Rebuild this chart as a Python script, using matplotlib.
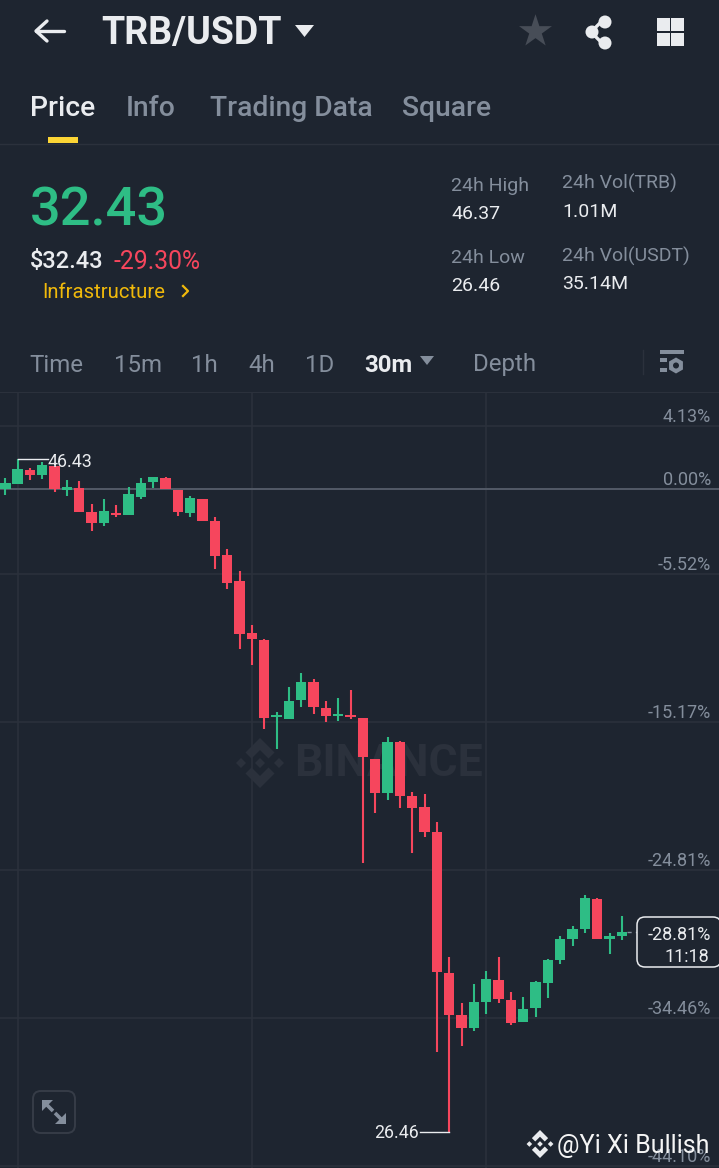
#!/usr/bin/env python3
"""Recreate the TRB/USDT 30m candlestick phone screenshot."""

import matplotlib

matplotlib.use("Agg")
import matplotlib.pyplot as plt
from matplotlib.patches import Circle, FancyBboxPatch, Polygon, Rectangle, RegularPolygon

W, H = 719, 1168

# candle values, percent change from the reference price
opens = [0.00, 0.35, 1.26, 0.91, 1.52, -0.02, 0.11, -1.48, -2.22, -1.54,
         -1.67, -0.48, 0.45, 0.76, -0.02, -1.52, -0.63, -2.07, -4.30, -6.00,
         -9.39, -9.84, -14.86, -14.97, -13.73, -12.56, -14.23, -14.77, -14.71,
         -14.90, -17.60, -19.81, -16.49, -19.99, -20.70, -22.35, -31.54, -34.26,
         -35.13, -33.43, -31.95, -33.26, -34.71, -33.80, -32.15, -30.67, -29.28,
         -28.63, -26.68, -29.33, -29.11]
closes = [0.39, 1.30, 0.91, 1.58, 0.00, 0.15, -1.46, -2.20, -1.44, -1.65,
          -0.33, 0.43, 0.80, 0.00, -1.46, -0.57, -2.09, -4.35, -6.13, -9.43,
          -9.78, -14.88, -14.71, -13.79, -12.58, -14.16, -14.77, -14.64, -14.84,
          -17.47, -19.77, -16.49, -19.99, -20.75, -22.35, -31.43, -34.26, -35.11,
          -33.39, -31.93, -33.22, -34.76, -33.87, -32.11, -30.67, -29.31, -28.65,
          -26.66, -29.28, -29.11, -28.83]
highs = [0.74, 1.95, 1.39, 1.78, 1.52, 0.61, 0.54, -0.98, -0.63, -1.02,
         0.13, 0.74, 0.82, 0.80, -0.02, -0.44, -0.63, -1.78, -3.87, -5.30,
         -8.84, -9.76, -14.49, -12.86, -11.97, -12.36, -13.82, -13.62, -13.08,
         -14.90, -17.60, -16.12, -16.40, -19.75, -19.86, -21.68, -30.46, -33.50,
         -32.24, -31.39, -30.50, -32.76, -33.08, -32.06, -30.61, -29.11, -28.46,
         -26.46, -26.66, -28.94, -27.83]
lows = [-0.35, 0.35, 0.61, 0.67, -0.15, -0.44, -1.46, -2.74, -2.41, -1.83,
        -1.67, -0.61, 0.08, 0.00, -1.74, -1.83, -2.09, -5.17, -6.48, -10.43,
        -11.45, -15.60, -16.95, -14.97, -14.16, -14.62, -15.14, -15.08, -14.95,
        -24.37, -21.12, -20.25, -20.75, -23.72, -22.64, -36.65, -41.90, -36.26,
        -35.28, -34.19, -33.45, -34.91, -34.71, -34.37, -33.13, -30.93, -29.76,
        -28.94, -29.33, -30.28, -29.35]

pct_ticks = [4.13, 0.00, -5.52, -15.17, -24.81, -34.46, -44.10]
pct_labels = ["4.13%", "0.00%", "-5.52%", "-15.17%", "-24.81%", "-34.46%", "-44.10%"]
time_ticks = [1, 20, 39]

tabs = ["Price", "Info", "Trading Data", "Square"]
tab_x = [30, 126, 210, 402]
intervals = ["Time", "15m", "1h", "4h", "1D", "30m", "Depth"]
interval_x = [29, 114, 191, 248, 305, 364, 473]

BG = "#1e2530"
GRID = "#2b313c"
GREY = "#848e9c"
WHITE = "#eaecef"
GREEN = "#2ebd85"
RED = "#f6465d"
YELLOW = "#f0b90b"

plt.rcParams["font.family"] = ["Roboto", "DejaVu Sans"]


def binance_logo(ax, cx, cy, r, color, zorder=1):
    chevron = [(0, -1), (0.58, -0.42), (0.34, -0.18), (0, -0.52), (-0.34, -0.18), (-0.58, -0.42)]
    for sign in (1, -1):
        ax.add_patch(Polygon([(cx + r * a, cy + sign * r * b) for a, b in chevron],
                             color=color, lw=0, zorder=zorder))
    d = 0.2 * r
    for ox in (-0.76 * r, 0, 0.76 * r):
        ax.add_patch(Polygon([(cx + ox - d, cy), (cx + ox, cy - d), (cx + ox + d, cy), (cx + ox, cy + d)],
                             color=color, lw=0, zorder=zorder))


def draw_header(ax):
    # back arrow
    ax.plot([36, 64], [31, 31], color=WHITE, lw=2.4, solid_capstyle="round")
    ax.plot([47, 36, 47], [21, 31, 41], color=WHITE, lw=2.4, solid_capstyle="round")
    ax.text(101, 34, "TRB/USDT", color=WHITE, fontsize=27, fontweight="bold", va="center")
    ax.add_patch(Polygon([(295, 25), (314, 25), (304.5, 37)], color=WHITE, lw=0))

    ax.scatter([535], [31], marker="*", s=620, color="#474d57", lw=0)
    # share icon
    ax.plot([602, 591, 602], [21, 32, 43], color=WHITE, lw=2.4)
    for px, py in [(605, 22), (592, 32), (605, 43)]:
        ax.add_patch(Circle((px, py), 6.5, color=WHITE, lw=0))
    for px, py in [(657, 18), (671, 18), (657, 33), (671, 33)]:
        ax.add_patch(Rectangle((px, py), 12.5, 12.5, color=WHITE, lw=0))

    for name, x in zip(tabs, tab_x):
        active = name == "Price"
        ax.text(x, 109, name, color=WHITE if active else GREY, fontsize=20.3,
                fontweight="medium", va="center")
    ax.add_patch(Rectangle((48, 137), 30, 6, color="#fcd535", lw=0))
    ax.plot([0, W], [143.5, 143.5], color=GRID, lw=1)

    ax.text(30, 211, "32.43", color=GREEN, fontsize=39, fontweight="medium", va="center")
    ax.text(30, 262, "$32.43", color=WHITE, fontsize=17, fontweight="medium", va="center")
    ax.text(114, 262, "-29.30%", color=RED, fontsize=17.8, va="center")
    ax.text(42, 293, "Infrastructure", color=YELLOW, fontsize=14.6, va="center")
    ax.plot([183, 188, 183], [286, 291, 296], color=YELLOW, lw=1.6)

    stats = [(451, 186, "24h High", GREY), (451, 214, "46.37", WHITE),
             (451, 258, "24h Low", GREY), (451, 286, "26.46", WHITE),
             (562, 183, "24h Vol(TRB)", GREY), (562, 212, "1.01M", WHITE),
             (562, 256, "24h Vol(USDT)", GREY), (562, 284, "35.14M", WHITE)]
    for x, y, s, c in stats:
        ax.text(x, y, s, color=c, fontsize=14, va="center")

    for name, x in zip(intervals, interval_x):
        active = name == "30m"
        ax.text(x, 365, name, color=WHITE if active else GREY, fontsize=17.3,
                fontweight="bold" if active else "normal", va="center")
    ax.add_patch(Polygon([(420, 356), (434, 356), (427, 365)], color=GREY, lw=0))
    ax.plot([642.5, 642.5], [350, 374], color=GRID, lw=1)
    # chart settings icon
    ax.add_patch(Rectangle((660, 350), 24, 3.5, color=GREY, lw=0))
    ax.add_patch(Rectangle((660, 358), 7, 3.5, color=GREY, lw=0))
    ax.add_patch(Rectangle((660, 368), 7, 3.5, color=GREY, lw=0))
    ax.add_patch(RegularPolygon((676, 365.5), 6, radius=8, color=GREY, lw=0))
    ax.add_patch(Circle((676, 365.5), 3, color=BG, lw=0))


def draw_chart(ax):
    idx = list(range(len(opens)))
    colors = [GREEN if c >= o else RED for o, c in zip(opens, closes)]
    ax.vlines(idx, lows, highs, colors=colors, lw=1.5, zorder=3)
    ax.bar(idx, [max(abs(c - o), 0.12) for o, c in zip(opens, closes)],
           bottom=[min(o, c) for o, c in zip(opens, closes)], width=0.84, color=colors, zorder=4)

    ax.set_yticks(pct_ticks)
    ax.set_xticks(time_ticks)
    ax.set_xticklabels([])
    ax.set_yticklabels([])
    ax.tick_params(length=0)
    ax.grid(True, color=GRID, lw=1.2)
    ax.set_axisbelow(True)
    ax.axhline(0, color="#5e6673", lw=1.1, zorder=2)
    for spine in ax.spines.values():
        spine.set_visible(False)
    ax.spines["top"].set_visible(True)
    ax.spines["top"].set_color(GRID)

    trans = ax.get_yaxis_transform()
    for value, label in zip(pct_ticks, pct_labels):
        ax.annotate(label, xy=(1, value), xycoords=trans, xytext=(-8, 9), textcoords="offset pixels",
                    ha="right", va="center", color=GREY, fontsize=13, zorder=5)

    # 24h extremes
    hi = max(range(len(highs)), key=lambda i: highs[i])
    lo = min(range(len(lows)), key=lambda i: lows[i])
    ax.plot([hi, hi + 2.45], [highs[hi], highs[hi]], color=WHITE, lw=1, zorder=5)
    ax.annotate("46.43", xy=(hi + 2.45, highs[hi]), xytext=(0, -3), textcoords="offset pixels",
                color=WHITE, fontsize=12.8, va="center", zorder=6)
    ax.plot([lo - 2.35, lo], [lows[lo], lows[lo]], color=WHITE, lw=1, zorder=5)
    ax.annotate("26.46", xy=(lo - 2.35, lows[lo]), xytext=(-1, -1), textcoords="offset pixels",
                color=WHITE, fontsize=12.8, ha="right", va="center", zorder=6)

    # last price connector
    ax.plot([len(opens) - 0.6, 51.2], [closes[-1]] * 2, color=GREY, lw=1, ls=(0, (3, 3)), zorder=2)


def draw_overlay(ax):
    ax.add_patch(FancyBboxPatch((637, 917), 84, 50, boxstyle="round,pad=0,rounding_size=8",
                                fc=BG, ec=WHITE, lw=1.1))
    ax.text(711, 935, "-28.81%", color=WHITE, fontsize=13, ha="right", va="center")
    ax.text(709, 957, "11:18", color=WHITE, fontsize=13, ha="right", va="center")

    # expand button
    ax.add_patch(FancyBboxPatch((33, 1091), 42, 42, boxstyle="round,pad=0,rounding_size=8",
                                fc="none", ec="#363c47", lw=1.4))
    ax.plot([46, 53], [1104, 1111], color=GREY, lw=2.6, solid_capstyle="butt")
    ax.plot([55, 62], [1113, 1120], color=GREY, lw=2.6, solid_capstyle="butt")
    ax.add_patch(Polygon([(42, 1100), (53, 1100), (42, 1111)], color=GREY, lw=0))
    ax.add_patch(Polygon([(66, 1124), (55, 1124), (66, 1113)], color=GREY, lw=0))

    binance_logo(ax, 540, 1144, 14, WHITE, zorder=6)
    ax.text(557, 1146, "@Yi Xi Bullish", color="#f5f5f5", fontsize=18.1, va="center", zorder=6)


def main():
    fig = plt.figure(figsize=(W / 100, H / 100), dpi=100, facecolor=BG)

    ui = fig.add_axes([0, 0, 1, 1], zorder=0)
    ui.set_xlim(0, W)
    ui.set_ylim(H, 0)
    ui.axis("off")
    draw_header(ui)
    binance_logo(ui, 260, 763, 25, GRID, zorder=1)
    ui.text(294, 764, "BINANCE", color=GRID, fontsize=32, fontweight="bold", va="center")

    chart = fig.add_axes([0, 0, 1, (H - 392) / H], zorder=1)
    chart.patch.set_visible(False)
    chart.set_xlim(-0.432, 57.88)
    chart.set_ylim(-44.23, 6.34)
    draw_chart(chart)

    top = fig.add_axes([0, 0, 1, 1], zorder=2)
    top.patch.set_visible(False)
    top.set_xlim(0, W)
    top.set_ylim(H, 0)
    top.axis("off")
    draw_overlay(top)

    fig.savefig("out.png", dpi=100, facecolor=BG)
    plt.close(fig)


if __name__ == "__main__":
    main()
